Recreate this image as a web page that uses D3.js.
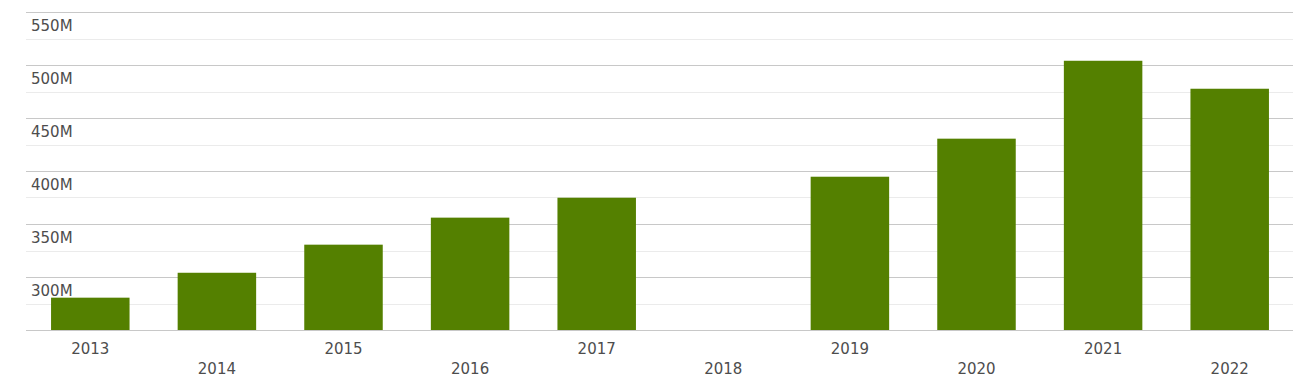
<!DOCTYPE html>
<html>
<head>
<meta charset="utf-8">
<script src="https://cdn.jsdelivr.net/npm/d3@7"></script>
<style>
  html, body { margin: 0; padding: 0; background: #fff; }
  svg { display: block; font-family: "DejaVu Sans", sans-serif; }
  .tick-label { fill: #4d4d4d; font-size: 15px; }
</style>
</head>
<body>
<svg id="chart" width="1293" height="384"></svg>
<script>
// --- Data ---
const years  = ["2013","2014","2015","2016","2017","2018","2019","2020","2021","2022"];
const values = [280.5e6, 304e6, 330.5e6, 356e6, 374.8e6, null, 394.6e6, 430.5e6, 504e6, 477.6e6];
const majorTicks = [250e6, 300e6, 350e6, 400e6, 450e6, 500e6, 550e6];
const minorTicks = [275e6, 325e6, 375e6, 425e6, 475e6, 525e6];

// --- Layout ---
const W = 1293, H = 384, M = {t: 12, r: 0, b: 54, l: 26};
const svg = d3.select("#chart");

const x = d3.scaleBand().domain(years).range([M.l + 1, W - M.r]).paddingInner(0.38).paddingOuter(0.19);
const y = d3.scaleLinear().domain([250e6, 550e6]).range([H - M.b, M.t]);
const fmt = v => (v / 1e6) + "M";

// minor grid
svg.append("g").selectAll("line").data(minorTicks).join("line")
  .attr("x1", M.l).attr("x2", W - M.r)
  .attr("y1", d => Math.round(y(d)) + 0.5).attr("y2", d => Math.round(y(d)) + 0.5)
  .attr("stroke", "#ebebeb");

// major grid
svg.append("g").selectAll("line").data(majorTicks).join("line")
  .attr("x1", M.l).attr("x2", W - M.r)
  .attr("y1", d => Math.round(y(d)) + 0.5).attr("y2", d => Math.round(y(d)) + 0.5)
  .attr("stroke", "#c8c8c8");

// bars
svg.append("g").selectAll("rect")
  .data(years.map((yr, i) => ({yr, v: values[i]})).filter(d => d.v != null))
  .join("rect")
  .attr("x", d => x(d.yr))
  .attr("width", x.bandwidth())
  .attr("y", d => y(d.v))
  .attr("height", d => y(250e6) - y(d.v))
  .attr("fill", "#548000");

// y labels (inside plot, below gridline)
svg.append("g").selectAll("text").data(majorTicks.filter(d => d > 250e6)).join("text")
  .attr("class", "tick-label")
  .attr("x", M.l + 5)
  .attr("y", d => y(d) + 19)
  .text(fmt);

// x labels, staggered
svg.append("g").selectAll("text").data(years).join("text")
  .attr("class", "tick-label")
  .attr("text-anchor", "middle")
  .attr("x", d => x(d) + x.bandwidth() / 2)
  .attr("y", (d, i) => (i % 2 ? 374 : 354))
  .text(d => d);
</script>
</body>
</html>
